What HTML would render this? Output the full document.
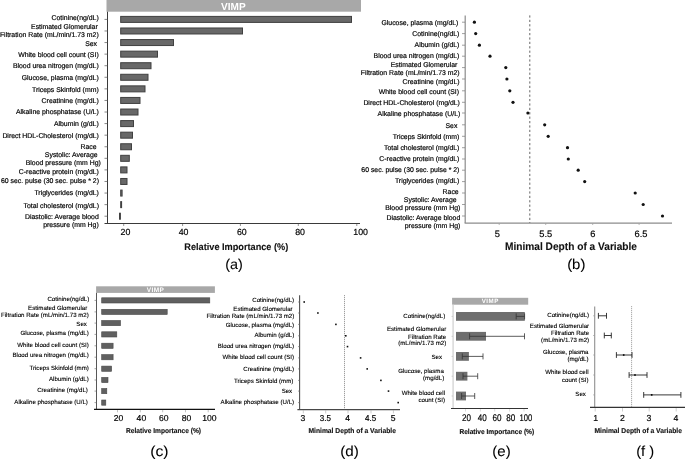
<!DOCTYPE html>
<html><head><meta charset="utf-8"><title>Figure</title>
<style>html,body{margin:0;padding:0;background:#fff;}svg{display:block}text{font-family:"Liberation Sans",Arial,sans-serif;text-rendering:geometricPrecision;}</style>
</head><body>
<svg width="685" height="459" viewBox="0 0 685 459">
<rect x="0" y="0" width="685" height="459" fill="#ffffff"/>
<rect x="106.50" y="0.00" width="254.50" height="11.70" fill="#a8a8a8"/>
<text x="233.40" y="9.60" font-size="10.2" text-anchor="middle" font-weight="bold" fill="#ffffff" textLength="24.60" lengthAdjust="spacingAndGlyphs" >VIMP</text>
<line x1="107.50" y1="11.70" x2="107.50" y2="223.50" stroke="#3a3a3a" stroke-width="1" />
<line x1="104.50" y1="223.50" x2="360.00" y2="223.50" stroke="#3a3a3a" stroke-width="1" />
<line x1="104.50" y1="19.40" x2="107.50" y2="19.40" stroke="#555" stroke-width="0.7" />
<line x1="104.50" y1="30.98" x2="107.50" y2="30.98" stroke="#555" stroke-width="0.7" />
<line x1="104.50" y1="42.55" x2="107.50" y2="42.55" stroke="#555" stroke-width="0.7" />
<line x1="104.50" y1="54.13" x2="107.50" y2="54.13" stroke="#555" stroke-width="0.7" />
<line x1="104.50" y1="65.71" x2="107.50" y2="65.71" stroke="#555" stroke-width="0.7" />
<line x1="104.50" y1="77.28" x2="107.50" y2="77.28" stroke="#555" stroke-width="0.7" />
<line x1="104.50" y1="88.86" x2="107.50" y2="88.86" stroke="#555" stroke-width="0.7" />
<line x1="104.50" y1="100.44" x2="107.50" y2="100.44" stroke="#555" stroke-width="0.7" />
<line x1="104.50" y1="112.02" x2="107.50" y2="112.02" stroke="#555" stroke-width="0.7" />
<line x1="104.50" y1="123.59" x2="107.50" y2="123.59" stroke="#555" stroke-width="0.7" />
<line x1="104.50" y1="135.17" x2="107.50" y2="135.17" stroke="#555" stroke-width="0.7" />
<line x1="104.50" y1="146.75" x2="107.50" y2="146.75" stroke="#555" stroke-width="0.7" />
<line x1="104.50" y1="158.32" x2="107.50" y2="158.32" stroke="#555" stroke-width="0.7" />
<line x1="104.50" y1="169.90" x2="107.50" y2="169.90" stroke="#555" stroke-width="0.7" />
<line x1="104.50" y1="181.48" x2="107.50" y2="181.48" stroke="#555" stroke-width="0.7" />
<line x1="104.50" y1="193.06" x2="107.50" y2="193.06" stroke="#555" stroke-width="0.7" />
<line x1="104.50" y1="204.63" x2="107.50" y2="204.63" stroke="#555" stroke-width="0.7" />
<line x1="104.50" y1="216.21" x2="107.50" y2="216.21" stroke="#555" stroke-width="0.7" />
<rect x="120.70" y="16.40" width="230.80" height="6.00" fill="#686868" stroke="#404040" stroke-width="1"/>
<rect x="120.70" y="27.98" width="121.80" height="6.00" fill="#686868" stroke="#404040" stroke-width="1"/>
<rect x="120.70" y="39.55" width="52.80" height="6.00" fill="#686868" stroke="#404040" stroke-width="1"/>
<rect x="120.70" y="51.13" width="36.80" height="6.00" fill="#686868" stroke="#404040" stroke-width="1"/>
<rect x="120.70" y="62.71" width="30.30" height="6.00" fill="#686868" stroke="#404040" stroke-width="1"/>
<rect x="120.70" y="74.28" width="27.30" height="6.00" fill="#686868" stroke="#404040" stroke-width="1"/>
<rect x="120.70" y="85.86" width="24.30" height="6.00" fill="#686868" stroke="#404040" stroke-width="1"/>
<rect x="120.70" y="97.44" width="19.30" height="6.00" fill="#686868" stroke="#404040" stroke-width="1"/>
<rect x="120.70" y="109.02" width="17.30" height="6.00" fill="#686868" stroke="#404040" stroke-width="1"/>
<rect x="120.70" y="120.59" width="12.80" height="6.00" fill="#686868" stroke="#404040" stroke-width="1"/>
<rect x="120.70" y="132.17" width="11.80" height="6.00" fill="#686868" stroke="#404040" stroke-width="1"/>
<rect x="120.70" y="143.75" width="10.80" height="6.00" fill="#686868" stroke="#404040" stroke-width="1"/>
<rect x="120.70" y="155.32" width="8.60" height="6.00" fill="#686868" stroke="#404040" stroke-width="1"/>
<rect x="120.70" y="166.90" width="6.30" height="6.00" fill="#686868" stroke="#404040" stroke-width="1"/>
<rect x="120.70" y="178.48" width="6.30" height="6.00" fill="#686868" stroke="#404040" stroke-width="1"/>
<rect x="120.70" y="190.06" width="1.40" height="6.00" fill="#686868" stroke="#404040" stroke-width="1"/>
<rect x="120.70" y="201.63" width="0.90" height="6.00" fill="#686868" stroke="#404040" stroke-width="1"/>
<rect x="119.50" y="213.21" width="0.90" height="6.00" fill="#686868" stroke="#404040" stroke-width="1"/>
<line x1="123.70" y1="224.00" x2="123.70" y2="226.00" stroke="#666" stroke-width="0.7" />
<text x="125.50" y="234.70" font-size="8.8" text-anchor="middle" font-weight="normal" fill="#000" stroke="#000" stroke-width="0.18" >20</text>
<line x1="182.60" y1="224.00" x2="182.60" y2="226.00" stroke="#666" stroke-width="0.7" />
<text x="183.60" y="234.70" font-size="8.8" text-anchor="middle" font-weight="normal" fill="#000" stroke="#000" stroke-width="0.18" >40</text>
<line x1="240.40" y1="224.00" x2="240.40" y2="226.00" stroke="#666" stroke-width="0.7" />
<text x="241.80" y="234.70" font-size="8.8" text-anchor="middle" font-weight="normal" fill="#000" stroke="#000" stroke-width="0.18" >60</text>
<line x1="298.30" y1="224.00" x2="298.30" y2="226.00" stroke="#666" stroke-width="0.7" />
<text x="300.10" y="234.70" font-size="8.8" text-anchor="middle" font-weight="normal" fill="#000" stroke="#000" stroke-width="0.18" >80</text>
<line x1="356.80" y1="224.00" x2="356.80" y2="226.00" stroke="#666" stroke-width="0.7" />
<text x="360.60" y="234.70" font-size="8.8" text-anchor="middle" font-weight="normal" fill="#000" stroke="#000" stroke-width="0.18" >100</text>
<text x="236.30" y="249.50" font-size="9.6" text-anchor="middle" font-weight="bold" fill="#111" textLength="104.00" lengthAdjust="spacingAndGlyphs" stroke="#111" stroke-width="0.1" >Relative Importance (%)</text>
<text x="234.10" y="268.90" font-size="14" text-anchor="middle" font-weight="normal" fill="#000" textLength="17.60" lengthAdjust="spacingAndGlyphs" stroke="#000" stroke-width="0.05" >(a)</text>
<text x="98.70" y="19.70" font-size="6.9" text-anchor="end" font-weight="normal" fill="#000" stroke="#000" stroke-width="0.18" >Cotinine(ng/dL)</text>
<text x="97.70" y="29.00" font-size="6.9" text-anchor="end" font-weight="normal" fill="#000" stroke="#000" stroke-width="0.18" >Estimated Glomerular</text>
<text x="98.70" y="37.40" font-size="6.9" text-anchor="end" font-weight="normal" fill="#000" stroke="#000" stroke-width="0.18" >Filtration Rate (mL/min/1.73 m2)</text>
<text x="97.00" y="46.30" font-size="6.9" text-anchor="end" font-weight="normal" fill="#000" stroke="#000" stroke-width="0.18" >Sex</text>
<text x="98.70" y="56.80" font-size="6.9" text-anchor="end" font-weight="normal" fill="#000" stroke="#000" stroke-width="0.18" >White blood cell count (SI)</text>
<text x="98.70" y="67.60" font-size="6.9" text-anchor="end" font-weight="normal" fill="#000" stroke="#000" stroke-width="0.18" >Blood urea nitrogen (mg/dL)</text>
<text x="98.70" y="79.80" font-size="6.9" text-anchor="end" font-weight="normal" fill="#000" stroke="#000" stroke-width="0.18" >Glucose, plasma (mg/dL)</text>
<text x="98.70" y="91.60" font-size="6.9" text-anchor="end" font-weight="normal" fill="#000" stroke="#000" stroke-width="0.18" >Triceps Skinfold (mm)</text>
<text x="98.70" y="102.90" font-size="6.9" text-anchor="end" font-weight="normal" fill="#000" stroke="#000" stroke-width="0.18" >Creatinine (mg/dL)</text>
<text x="98.70" y="114.40" font-size="6.9" text-anchor="end" font-weight="normal" fill="#000" stroke="#000" stroke-width="0.18" >Alkaline phosphatase (U/L)</text>
<text x="98.70" y="125.90" font-size="6.9" text-anchor="end" font-weight="normal" fill="#000" stroke="#000" stroke-width="0.18" >Albumin (g/dL)</text>
<text x="98.90" y="137.70" font-size="6.9" text-anchor="end" font-weight="normal" fill="#000" stroke="#000" stroke-width="0.18" >Direct HDL-Cholesterol (mg/dL)</text>
<text x="96.50" y="148.50" font-size="6.9" text-anchor="end" font-weight="normal" fill="#000" stroke="#000" stroke-width="0.18" >Race</text>
<text x="97.60" y="156.90" font-size="6.9" text-anchor="end" font-weight="normal" fill="#000" stroke="#000" stroke-width="0.18" >Systolic: Average</text>
<text x="100.80" y="164.80" font-size="6.9" text-anchor="end" font-weight="normal" fill="#000" stroke="#000" stroke-width="0.18" >Blood pressure (mm Hg)</text>
<text x="98.90" y="173.90" font-size="6.9" text-anchor="end" font-weight="normal" fill="#000" stroke="#000" stroke-width="0.18" >C-reactive protein (mg/dL)</text>
<text x="99.00" y="183.00" font-size="6.9" text-anchor="end" font-weight="normal" fill="#000" stroke="#000" stroke-width="0.18" >60 sec. pulse (30 sec. pulse * 2)</text>
<text x="98.90" y="195.10" font-size="6.9" text-anchor="end" font-weight="normal" fill="#000" stroke="#000" stroke-width="0.18" >Triglycerides (mg/dL)</text>
<text x="99.00" y="207.70" font-size="6.9" text-anchor="end" font-weight="normal" fill="#000" stroke="#000" stroke-width="0.18" >Total cholesterol (mg/dL)</text>
<text x="98.80" y="219.00" font-size="6.9" text-anchor="end" font-weight="normal" fill="#000" stroke="#000" stroke-width="0.18" >Diastolic: Average blood</text>
<text x="98.70" y="227.00" font-size="6.9" text-anchor="end" font-weight="normal" fill="#000" stroke="#000" stroke-width="0.18" >pressure (mm Hg)</text>
<line x1="465.20" y1="15.40" x2="465.20" y2="223.10" stroke="#8c8c8c" stroke-width="1.2" />
<line x1="464.60" y1="223.10" x2="672.00" y2="223.10" stroke="#8c8c8c" stroke-width="1.1" />
<line x1="462.00" y1="22.20" x2="465.00" y2="22.20" stroke="#777" stroke-width="0.7" />
<circle cx="474.40" cy="22.20" r="1.6" fill="#111"/>
<line x1="462.00" y1="33.60" x2="465.00" y2="33.60" stroke="#777" stroke-width="0.7" />
<circle cx="475.70" cy="33.60" r="1.6" fill="#111"/>
<line x1="462.00" y1="45.20" x2="465.00" y2="45.20" stroke="#777" stroke-width="0.7" />
<circle cx="479.40" cy="45.20" r="1.6" fill="#111"/>
<line x1="462.00" y1="56.20" x2="465.00" y2="56.20" stroke="#777" stroke-width="0.7" />
<circle cx="490.00" cy="56.20" r="1.6" fill="#111"/>
<line x1="462.00" y1="67.60" x2="465.00" y2="67.60" stroke="#777" stroke-width="0.7" />
<circle cx="505.80" cy="67.60" r="1.6" fill="#111"/>
<line x1="462.00" y1="79.00" x2="465.00" y2="79.00" stroke="#777" stroke-width="0.7" />
<circle cx="506.90" cy="79.00" r="1.6" fill="#111"/>
<line x1="462.00" y1="90.80" x2="465.00" y2="90.80" stroke="#777" stroke-width="0.7" />
<circle cx="509.80" cy="90.80" r="1.6" fill="#111"/>
<line x1="462.00" y1="102.30" x2="465.00" y2="102.30" stroke="#777" stroke-width="0.7" />
<circle cx="513.00" cy="102.30" r="1.6" fill="#111"/>
<line x1="462.00" y1="113.00" x2="465.00" y2="113.00" stroke="#777" stroke-width="0.7" />
<circle cx="527.90" cy="113.00" r="1.6" fill="#111"/>
<line x1="462.00" y1="124.80" x2="465.00" y2="124.80" stroke="#777" stroke-width="0.7" />
<circle cx="544.70" cy="124.80" r="1.6" fill="#111"/>
<line x1="462.00" y1="136.30" x2="465.00" y2="136.30" stroke="#777" stroke-width="0.7" />
<circle cx="548.20" cy="136.30" r="1.6" fill="#111"/>
<line x1="462.00" y1="147.70" x2="465.00" y2="147.70" stroke="#777" stroke-width="0.7" />
<circle cx="567.50" cy="147.70" r="1.6" fill="#111"/>
<line x1="462.00" y1="159.00" x2="465.00" y2="159.00" stroke="#777" stroke-width="0.7" />
<circle cx="568.30" cy="159.00" r="1.6" fill="#111"/>
<line x1="462.00" y1="170.20" x2="465.00" y2="170.20" stroke="#777" stroke-width="0.7" />
<circle cx="578.20" cy="170.20" r="1.6" fill="#111"/>
<line x1="462.00" y1="181.60" x2="465.00" y2="181.60" stroke="#777" stroke-width="0.7" />
<circle cx="584.70" cy="181.60" r="1.6" fill="#111"/>
<line x1="462.00" y1="193.00" x2="465.00" y2="193.00" stroke="#777" stroke-width="0.7" />
<circle cx="635.20" cy="193.00" r="1.6" fill="#111"/>
<line x1="462.00" y1="204.50" x2="465.00" y2="204.50" stroke="#777" stroke-width="0.7" />
<circle cx="643.20" cy="204.50" r="1.6" fill="#111"/>
<line x1="462.00" y1="216.00" x2="465.00" y2="216.00" stroke="#777" stroke-width="0.7" />
<circle cx="662.50" cy="216.00" r="1.6" fill="#111"/>
<line x1="529.80" y1="15.40" x2="529.80" y2="223.00" stroke="#666" stroke-width="1" stroke-dasharray="2.2 2.2"/>
<line x1="499.20" y1="223.50" x2="499.20" y2="225.00" stroke="#999" stroke-width="0.7" />
<text x="497.30" y="236.70" font-size="9.3" text-anchor="middle" font-weight="normal" fill="#000" stroke="#000" stroke-width="0.18" >5</text>
<line x1="545.70" y1="223.50" x2="545.70" y2="225.00" stroke="#999" stroke-width="0.7" />
<text x="545.70" y="236.70" font-size="9.3" text-anchor="middle" font-weight="normal" fill="#000" stroke="#000" stroke-width="0.18" >5.5</text>
<line x1="592.70" y1="223.50" x2="592.70" y2="225.00" stroke="#999" stroke-width="0.7" />
<text x="592.80" y="236.70" font-size="9.3" text-anchor="middle" font-weight="normal" fill="#000" stroke="#000" stroke-width="0.18" >6</text>
<line x1="639.10" y1="223.50" x2="639.10" y2="225.00" stroke="#999" stroke-width="0.7" />
<text x="641.00" y="236.70" font-size="9.3" text-anchor="middle" font-weight="normal" fill="#000" stroke="#000" stroke-width="0.18" >6.5</text>
<text x="571.00" y="249.50" font-size="10.8" text-anchor="middle" font-weight="bold" fill="#111" textLength="132.00" lengthAdjust="spacingAndGlyphs" stroke="#111" stroke-width="0.1" >Minimal Depth of a Variable</text>
<text x="576.30" y="269.10" font-size="14" text-anchor="middle" font-weight="normal" fill="#000" textLength="18.30" lengthAdjust="spacingAndGlyphs" stroke="#000" stroke-width="0.05" >(b)</text>
<text x="458.40" y="25.00" font-size="6.9" text-anchor="end" font-weight="normal" fill="#000" stroke="#000" stroke-width="0.18" >Glucose, plasma (mg/dL)</text>
<text x="459.40" y="36.40" font-size="6.9" text-anchor="end" font-weight="normal" fill="#000" stroke="#000" stroke-width="0.18" >Cotinine(ng/dL)</text>
<text x="459.40" y="47.30" font-size="6.9" text-anchor="end" font-weight="normal" fill="#000" stroke="#000" stroke-width="0.18" >Albumin (g/dL)</text>
<text x="459.40" y="58.10" font-size="6.9" text-anchor="end" font-weight="normal" fill="#000" stroke="#000" stroke-width="0.18" >Blood urea nitrogen (mg/dL)</text>
<text x="457.30" y="67.00" font-size="6.9" text-anchor="end" font-weight="normal" fill="#000" stroke="#000" stroke-width="0.18" >Estimated Glomerular</text>
<text x="459.60" y="75.40" font-size="6.9" text-anchor="end" font-weight="normal" fill="#000" stroke="#000" stroke-width="0.18" >Filtration Rate (mL/min/1.73 m2)</text>
<text x="459.60" y="84.20" font-size="6.9" text-anchor="end" font-weight="normal" fill="#000" stroke="#000" stroke-width="0.18" >Creatinine (mg/dL)</text>
<text x="459.10" y="94.00" font-size="6.9" text-anchor="end" font-weight="normal" fill="#000" stroke="#000" stroke-width="0.18" >White blood cell count (SI)</text>
<text x="459.90" y="104.50" font-size="6.9" text-anchor="end" font-weight="normal" fill="#000" stroke="#000" stroke-width="0.18" >Direct HDL-Cholesterol (mg/dL)</text>
<text x="460.30" y="116.10" font-size="6.9" text-anchor="end" font-weight="normal" fill="#000" stroke="#000" stroke-width="0.18" >Alkaline phosphatase (U/L)</text>
<text x="457.40" y="127.90" font-size="6.9" text-anchor="end" font-weight="normal" fill="#000" stroke="#000" stroke-width="0.18" >Sex</text>
<text x="459.40" y="138.80" font-size="6.9" text-anchor="end" font-weight="normal" fill="#000" stroke="#000" stroke-width="0.18" >Triceps Skinfold (mm)</text>
<text x="459.40" y="149.70" font-size="6.9" text-anchor="end" font-weight="normal" fill="#000" stroke="#000" stroke-width="0.18" >Total cholesterol (mg/dL)</text>
<text x="459.40" y="160.80" font-size="6.9" text-anchor="end" font-weight="normal" fill="#000" stroke="#000" stroke-width="0.18" >C-reactive protein (mg/dL)</text>
<text x="459.40" y="172.20" font-size="6.9" text-anchor="end" font-weight="normal" fill="#000" stroke="#000" stroke-width="0.18" >60 sec. pulse (30 sec. pulse * 2)</text>
<text x="459.40" y="182.60" font-size="6.9" text-anchor="end" font-weight="normal" fill="#000" stroke="#000" stroke-width="0.18" >Triglycerides (mg/dL)</text>
<text x="458.70" y="194.40" font-size="6.9" text-anchor="end" font-weight="normal" fill="#000" stroke="#000" stroke-width="0.18" >Race</text>
<text x="456.60" y="202.40" font-size="6.9" text-anchor="end" font-weight="normal" fill="#000" stroke="#000" stroke-width="0.18" >Systolic: Average</text>
<text x="460.30" y="210.40" font-size="6.9" text-anchor="end" font-weight="normal" fill="#000" stroke="#000" stroke-width="0.18" >Blood pressure (mm Hg)</text>
<text x="460.30" y="219.70" font-size="6.9" text-anchor="end" font-weight="normal" fill="#000" stroke="#000" stroke-width="0.18" >Diastolic: Average blood</text>
<text x="460.30" y="228.40" font-size="6.9" text-anchor="end" font-weight="normal" fill="#000" stroke="#000" stroke-width="0.18" >pressure (mm Hg)</text>
<rect x="96.10" y="286.30" width="118.80" height="6.60" fill="#a8a8a8"/>
<text x="155.50" y="291.90" font-size="6.5" text-anchor="middle" font-weight="bold" fill="#ffffff" letter-spacing="0.4">VIMP</text>
<line x1="96.50" y1="292.90" x2="96.50" y2="409.50" stroke="#444" stroke-width="0.9" />
<line x1="94.00" y1="409.40" x2="215.00" y2="409.40" stroke="#111" stroke-width="1.2" />
<line x1="94.50" y1="300.40" x2="96.60" y2="300.40" stroke="#666" stroke-width="0.6" />
<rect x="101.70" y="297.80" width="108.10" height="5.20" fill="#606060" stroke="#484848" stroke-width="0.6"/>
<line x1="94.50" y1="311.90" x2="96.60" y2="311.90" stroke="#666" stroke-width="0.6" />
<rect x="101.70" y="309.30" width="65.50" height="5.20" fill="#606060" stroke="#484848" stroke-width="0.6"/>
<line x1="94.50" y1="323.10" x2="96.60" y2="323.10" stroke="#666" stroke-width="0.6" />
<rect x="101.70" y="320.50" width="18.80" height="5.20" fill="#606060" stroke="#484848" stroke-width="0.6"/>
<line x1="94.50" y1="334.40" x2="96.60" y2="334.40" stroke="#666" stroke-width="0.6" />
<rect x="101.70" y="331.80" width="15.10" height="5.20" fill="#606060" stroke="#484848" stroke-width="0.6"/>
<line x1="94.50" y1="345.80" x2="96.60" y2="345.80" stroke="#666" stroke-width="0.6" />
<rect x="101.70" y="343.20" width="11.40" height="5.20" fill="#606060" stroke="#484848" stroke-width="0.6"/>
<line x1="94.50" y1="357.20" x2="96.60" y2="357.20" stroke="#666" stroke-width="0.6" />
<rect x="101.70" y="354.60" width="11.40" height="5.20" fill="#606060" stroke="#484848" stroke-width="0.6"/>
<line x1="94.50" y1="368.70" x2="96.60" y2="368.70" stroke="#666" stroke-width="0.6" />
<rect x="101.70" y="366.10" width="9.90" height="5.20" fill="#606060" stroke="#484848" stroke-width="0.6"/>
<line x1="94.50" y1="380.00" x2="96.60" y2="380.00" stroke="#666" stroke-width="0.6" />
<rect x="101.70" y="377.40" width="6.30" height="5.20" fill="#606060" stroke="#484848" stroke-width="0.6"/>
<line x1="94.50" y1="391.10" x2="96.60" y2="391.10" stroke="#666" stroke-width="0.6" />
<rect x="101.70" y="388.50" width="5.10" height="5.20" fill="#606060" stroke="#484848" stroke-width="0.6"/>
<line x1="94.50" y1="402.60" x2="96.60" y2="402.60" stroke="#666" stroke-width="0.6" />
<rect x="101.70" y="400.00" width="4.10" height="5.20" fill="#606060" stroke="#484848" stroke-width="0.6"/>
<line x1="117.50" y1="410.00" x2="117.50" y2="412.30" stroke="#999" stroke-width="0.6" />
<text x="118.60" y="420.90" font-size="8.6" text-anchor="middle" font-weight="normal" fill="#000" stroke="#000" stroke-width="0.18" >20</text>
<line x1="140.30" y1="410.00" x2="140.30" y2="412.30" stroke="#999" stroke-width="0.6" />
<text x="141.40" y="420.90" font-size="8.6" text-anchor="middle" font-weight="normal" fill="#000" stroke="#000" stroke-width="0.18" >40</text>
<line x1="162.70" y1="410.00" x2="162.70" y2="412.30" stroke="#999" stroke-width="0.6" />
<text x="163.80" y="420.90" font-size="8.6" text-anchor="middle" font-weight="normal" fill="#000" stroke="#000" stroke-width="0.18" >60</text>
<line x1="185.50" y1="410.00" x2="185.50" y2="412.30" stroke="#999" stroke-width="0.6" />
<text x="186.60" y="420.90" font-size="8.6" text-anchor="middle" font-weight="normal" fill="#000" stroke="#000" stroke-width="0.18" >80</text>
<line x1="208.20" y1="410.00" x2="208.20" y2="412.30" stroke="#999" stroke-width="0.6" />
<text x="209.30" y="420.90" font-size="8.6" text-anchor="middle" font-weight="normal" fill="#000" stroke="#000" stroke-width="0.18" >100</text>
<text x="163.50" y="432.80" font-size="7.1" text-anchor="middle" font-weight="bold" fill="#111" textLength="75.00" lengthAdjust="spacingAndGlyphs" stroke="#111" stroke-width="0.14" >Relative Importance (%)</text>
<text x="159.40" y="455.60" font-size="14.5" text-anchor="middle" font-weight="normal" fill="#000" textLength="18.40" lengthAdjust="spacingAndGlyphs" stroke="#000" stroke-width="0.05" >(c)</text>
<text x="89.30" y="301.30" font-size="6.14" text-anchor="end" font-weight="normal" fill="#000" stroke="#000" stroke-width="0.12" >Cotinine(ng/dL)</text>
<text x="87.30" y="310.20" font-size="6.14" text-anchor="end" font-weight="normal" fill="#000" stroke="#000" stroke-width="0.12" >Estimated Glomerular</text>
<text x="88.80" y="317.30" font-size="6.14" text-anchor="end" font-weight="normal" fill="#000" stroke="#000" stroke-width="0.12" >Filtration Rate (mL/min/1.73 m2)</text>
<text x="86.90" y="326.10" font-size="6.14" text-anchor="end" font-weight="normal" fill="#000" stroke="#000" stroke-width="0.12" >Sex</text>
<text x="88.80" y="335.00" font-size="6.14" text-anchor="end" font-weight="normal" fill="#000" stroke="#000" stroke-width="0.12" >Glucose, plasma (mg/dL)</text>
<text x="88.80" y="346.70" font-size="6.14" text-anchor="end" font-weight="normal" fill="#000" stroke="#000" stroke-width="0.12" >White blood cell count (SI)</text>
<text x="88.80" y="357.00" font-size="6.14" text-anchor="end" font-weight="normal" fill="#000" stroke="#000" stroke-width="0.12" >Blood urea nitrogen (mg/dL)</text>
<text x="88.80" y="369.70" font-size="6.14" text-anchor="end" font-weight="normal" fill="#000" stroke="#000" stroke-width="0.12" >Triceps Skinfold (mm)</text>
<text x="88.80" y="381.40" font-size="6.14" text-anchor="end" font-weight="normal" fill="#000" stroke="#000" stroke-width="0.12" >Albumin (g/dL)</text>
<text x="87.90" y="392.10" font-size="6.14" text-anchor="end" font-weight="normal" fill="#000" stroke="#000" stroke-width="0.12" >Creatinine (mg/dL)</text>
<text x="87.90" y="403.50" font-size="6.14" text-anchor="end" font-weight="normal" fill="#000" stroke="#000" stroke-width="0.12" >Alkaline phosphatase (U/L)</text>
<line x1="299.60" y1="295.20" x2="299.60" y2="409.80" stroke="#505050" stroke-width="1.1" />
<line x1="297.40" y1="409.60" x2="400.00" y2="409.60" stroke="#484848" stroke-width="1.3" />
<line x1="298.00" y1="302.00" x2="299.90" y2="302.00" stroke="#666" stroke-width="0.6" />
<rect x="303.40" y="301.20" width="1.60" height="1.60" fill="#111"/>
<line x1="298.00" y1="313.00" x2="299.90" y2="313.00" stroke="#666" stroke-width="0.6" />
<rect x="317.10" y="312.20" width="1.60" height="1.60" fill="#111"/>
<line x1="298.00" y1="324.40" x2="299.90" y2="324.40" stroke="#666" stroke-width="0.6" />
<rect x="335.10" y="323.60" width="1.60" height="1.60" fill="#111"/>
<line x1="298.00" y1="335.80" x2="299.90" y2="335.80" stroke="#666" stroke-width="0.6" />
<rect x="345.00" y="335.00" width="1.60" height="1.60" fill="#111"/>
<line x1="298.00" y1="346.60" x2="299.90" y2="346.60" stroke="#666" stroke-width="0.6" />
<rect x="346.70" y="345.80" width="1.60" height="1.60" fill="#111"/>
<line x1="298.00" y1="357.90" x2="299.90" y2="357.90" stroke="#666" stroke-width="0.6" />
<rect x="359.80" y="357.10" width="1.60" height="1.60" fill="#111"/>
<line x1="298.00" y1="368.90" x2="299.90" y2="368.90" stroke="#666" stroke-width="0.6" />
<rect x="366.40" y="368.10" width="1.60" height="1.60" fill="#111"/>
<line x1="298.00" y1="380.40" x2="299.90" y2="380.40" stroke="#666" stroke-width="0.6" />
<rect x="380.10" y="379.60" width="1.60" height="1.60" fill="#111"/>
<line x1="298.00" y1="391.10" x2="299.90" y2="391.10" stroke="#666" stroke-width="0.6" />
<rect x="387.70" y="390.30" width="1.60" height="1.60" fill="#111"/>
<line x1="298.00" y1="402.60" x2="299.90" y2="402.60" stroke="#666" stroke-width="0.6" />
<rect x="397.40" y="401.80" width="1.60" height="1.60" fill="#111"/>
<line x1="344.50" y1="295.20" x2="344.50" y2="409.50" stroke="#555" stroke-width="0.7" stroke-dasharray="1 1"/>
<line x1="303.30" y1="410.00" x2="303.30" y2="413.40" stroke="#aaa" stroke-width="0.6" />
<text x="303.00" y="421.00" font-size="8.6" text-anchor="middle" font-weight="normal" fill="#000" stroke="#000" stroke-width="0.18" >3</text>
<line x1="325.70" y1="410.00" x2="325.70" y2="413.40" stroke="#aaa" stroke-width="0.6" />
<text x="325.40" y="421.00" font-size="8.6" text-anchor="middle" font-weight="normal" fill="#000" textLength="11.20" lengthAdjust="spacingAndGlyphs" stroke="#000" stroke-width="0.18" >3.5</text>
<line x1="348.00" y1="410.00" x2="348.00" y2="413.40" stroke="#aaa" stroke-width="0.6" />
<text x="347.70" y="421.00" font-size="8.6" text-anchor="middle" font-weight="normal" fill="#000" stroke="#000" stroke-width="0.18" >4</text>
<line x1="371.00" y1="410.00" x2="371.00" y2="413.40" stroke="#aaa" stroke-width="0.6" />
<text x="370.70" y="421.00" font-size="8.6" text-anchor="middle" font-weight="normal" fill="#000" textLength="11.20" lengthAdjust="spacingAndGlyphs" stroke="#000" stroke-width="0.18" >4.5</text>
<line x1="393.40" y1="410.00" x2="393.40" y2="413.40" stroke="#aaa" stroke-width="0.6" />
<text x="393.10" y="421.00" font-size="8.6" text-anchor="middle" font-weight="normal" fill="#000" stroke="#000" stroke-width="0.18" >5</text>
<text x="352.20" y="432.80" font-size="7.1" text-anchor="middle" font-weight="bold" fill="#111" textLength="87.50" lengthAdjust="spacingAndGlyphs" stroke="#111" stroke-width="0.14" >Minimal Depth of a Variable</text>
<text x="349.50" y="455.60" font-size="14.5" text-anchor="middle" font-weight="normal" fill="#000" textLength="18.60" lengthAdjust="spacingAndGlyphs" stroke="#000" stroke-width="0.05" >(d)</text>
<text x="294.10" y="302.00" font-size="6.14" text-anchor="end" font-weight="normal" fill="#000" stroke="#000" stroke-width="0.12" >Cotinine(ng/dL)</text>
<text x="292.60" y="310.70" font-size="6.14" text-anchor="end" font-weight="normal" fill="#000" stroke="#000" stroke-width="0.12" >Estimated Glomerular</text>
<text x="294.30" y="318.00" font-size="6.14" text-anchor="end" font-weight="normal" fill="#000" stroke="#000" stroke-width="0.12" >Filtration Rate (mL/min/1.73 m2)</text>
<text x="294.10" y="326.70" font-size="6.14" text-anchor="end" font-weight="normal" fill="#000" stroke="#000" stroke-width="0.12" >Glucose, plasma (mg/dL)</text>
<text x="294.30" y="337.00" font-size="6.14" text-anchor="end" font-weight="normal" fill="#000" stroke="#000" stroke-width="0.12" >Albumin (g/dL)</text>
<text x="294.10" y="347.50" font-size="6.14" text-anchor="end" font-weight="normal" fill="#000" stroke="#000" stroke-width="0.12" >Blood urea nitrogen (mg/dL)</text>
<text x="294.10" y="359.10" font-size="6.14" text-anchor="end" font-weight="normal" fill="#000" stroke="#000" stroke-width="0.12" >White blood cell count (SI)</text>
<text x="294.10" y="370.50" font-size="6.14" text-anchor="end" font-weight="normal" fill="#000" stroke="#000" stroke-width="0.12" >Creatinine (mg/dL)</text>
<text x="293.30" y="383.00" font-size="6.14" text-anchor="end" font-weight="normal" fill="#000" stroke="#000" stroke-width="0.12" >Triceps Skinfold (mm)</text>
<text x="292.20" y="392.80" font-size="6.14" text-anchor="end" font-weight="normal" fill="#000" stroke="#000" stroke-width="0.12" >Sex</text>
<text x="294.10" y="404.00" font-size="6.14" text-anchor="end" font-weight="normal" fill="#000" stroke="#000" stroke-width="0.12" >Alkaline phosphatase (U/L)</text>
<rect x="452.10" y="297.80" width="76.10" height="6.90" fill="#a8a8a8"/>
<text x="490.30" y="303.10" font-size="6.2" text-anchor="middle" font-weight="bold" fill="#ffffff" letter-spacing="0.5">VIMP</text>
<line x1="453.10" y1="304.70" x2="453.10" y2="408.00" stroke="#d6d6d6" stroke-width="1.4" />
<line x1="451.00" y1="408.50" x2="528.00" y2="408.50" stroke="#333" stroke-width="1" />
<line x1="451.50" y1="316.40" x2="453.00" y2="316.40" stroke="#bbb" stroke-width="0.6" />
<rect x="456.00" y="312.00" width="68.80" height="8.80" fill="#6e6e6e"/>
<line x1="516.20" y1="316.40" x2="524.60" y2="316.40" stroke="#333" stroke-width="0.8" />
<line x1="516.20" y1="313.40" x2="516.20" y2="319.40" stroke="#333" stroke-width="0.8" />
<line x1="524.60" y1="313.40" x2="524.60" y2="319.40" stroke="#333" stroke-width="0.8" />
<line x1="451.50" y1="336.30" x2="453.00" y2="336.30" stroke="#bbb" stroke-width="0.6" />
<rect x="456.00" y="331.90" width="30.00" height="8.80" fill="#6e6e6e"/>
<line x1="469.60" y1="336.30" x2="524.50" y2="336.30" stroke="#333" stroke-width="0.8" />
<line x1="469.60" y1="333.30" x2="469.60" y2="339.30" stroke="#333" stroke-width="0.8" />
<line x1="524.50" y1="333.30" x2="524.50" y2="339.30" stroke="#333" stroke-width="0.8" />
<line x1="451.50" y1="356.40" x2="453.00" y2="356.40" stroke="#bbb" stroke-width="0.6" />
<rect x="456.00" y="352.00" width="12.90" height="8.80" fill="#6e6e6e"/>
<line x1="462.30" y1="356.40" x2="483.00" y2="356.40" stroke="#333" stroke-width="0.8" />
<line x1="462.30" y1="353.40" x2="462.30" y2="359.40" stroke="#333" stroke-width="0.8" />
<line x1="483.00" y1="353.40" x2="483.00" y2="359.40" stroke="#333" stroke-width="0.8" />
<line x1="451.50" y1="376.20" x2="453.00" y2="376.20" stroke="#bbb" stroke-width="0.6" />
<rect x="456.00" y="371.80" width="11.40" height="8.80" fill="#6e6e6e"/>
<line x1="463.00" y1="376.20" x2="477.70" y2="376.20" stroke="#333" stroke-width="0.8" />
<line x1="463.00" y1="373.20" x2="463.00" y2="379.20" stroke="#333" stroke-width="0.8" />
<line x1="477.70" y1="373.20" x2="477.70" y2="379.20" stroke="#333" stroke-width="0.8" />
<line x1="451.50" y1="396.00" x2="453.00" y2="396.00" stroke="#bbb" stroke-width="0.6" />
<rect x="456.00" y="391.60" width="10.00" height="8.80" fill="#6e6e6e"/>
<line x1="461.60" y1="396.00" x2="474.70" y2="396.00" stroke="#333" stroke-width="0.8" />
<line x1="461.60" y1="393.00" x2="461.60" y2="399.00" stroke="#333" stroke-width="0.8" />
<line x1="474.70" y1="393.00" x2="474.70" y2="399.00" stroke="#333" stroke-width="0.8" />
<line x1="465.50" y1="409.00" x2="465.50" y2="411.50" stroke="#ccc" stroke-width="0.7" />
<text x="466.60" y="420.90" font-size="9.6" text-anchor="middle" font-weight="normal" fill="#000" textLength="9.00" lengthAdjust="spacingAndGlyphs" stroke="#000" stroke-width="0.18" >20</text>
<line x1="480.40" y1="409.00" x2="480.40" y2="411.50" stroke="#ccc" stroke-width="0.7" />
<text x="482.30" y="420.90" font-size="9.6" text-anchor="middle" font-weight="normal" fill="#000" textLength="9.00" lengthAdjust="spacingAndGlyphs" stroke="#000" stroke-width="0.18" >40</text>
<line x1="494.70" y1="409.00" x2="494.70" y2="411.50" stroke="#ccc" stroke-width="0.7" />
<text x="497.00" y="420.90" font-size="9.6" text-anchor="middle" font-weight="normal" fill="#000" textLength="9.00" lengthAdjust="spacingAndGlyphs" stroke="#000" stroke-width="0.18" >60</text>
<line x1="509.60" y1="409.00" x2="509.60" y2="411.50" stroke="#ccc" stroke-width="0.7" />
<text x="510.80" y="420.90" font-size="9.6" text-anchor="middle" font-weight="normal" fill="#000" textLength="9.00" lengthAdjust="spacingAndGlyphs" stroke="#000" stroke-width="0.18" >80</text>
<line x1="524.00" y1="409.00" x2="524.00" y2="411.50" stroke="#ccc" stroke-width="0.7" />
<text x="525.80" y="420.90" font-size="9.6" text-anchor="middle" font-weight="normal" fill="#000" textLength="12.70" lengthAdjust="spacingAndGlyphs" stroke="#000" stroke-width="0.18" >100</text>
<text x="496.80" y="433.80" font-size="7.1" text-anchor="middle" font-weight="bold" fill="#111" textLength="74.80" lengthAdjust="spacingAndGlyphs" stroke="#111" stroke-width="0.14" >Relative Importance (%)</text>
<text x="501.50" y="455.80" font-size="14.5" text-anchor="middle" font-weight="normal" fill="#000" textLength="18.40" lengthAdjust="spacingAndGlyphs" stroke="#000" stroke-width="0.05" >(e)</text>
<text x="445.20" y="318.30" font-size="6.14" text-anchor="end" font-weight="normal" fill="#000" stroke="#000" stroke-width="0.12" >Cotinine(ng/dL)</text>
<text x="446.20" y="330.60" font-size="6.14" text-anchor="end" font-weight="normal" fill="#000" stroke="#000" stroke-width="0.12" >Estimated Glomerular</text>
<text x="446.20" y="338.50" font-size="6.14" text-anchor="end" font-weight="normal" fill="#000" stroke="#000" stroke-width="0.12" >Filtration Rate</text>
<text x="446.20" y="345.30" font-size="6.14" text-anchor="end" font-weight="normal" fill="#000" stroke="#000" stroke-width="0.12" >(mL/min/1.73 m2)</text>
<text x="442.00" y="358.60" font-size="6.14" text-anchor="end" font-weight="normal" fill="#000" stroke="#000" stroke-width="0.12" >Sex</text>
<text x="443.80" y="372.90" font-size="6.14" text-anchor="end" font-weight="normal" fill="#000" stroke="#000" stroke-width="0.12" >Glucose, plasma</text>
<text x="444.20" y="380.00" font-size="6.14" text-anchor="end" font-weight="normal" fill="#000" stroke="#000" stroke-width="0.12" >(mg/dL)</text>
<text x="445.00" y="395.00" font-size="6.14" text-anchor="end" font-weight="normal" fill="#000" stroke="#000" stroke-width="0.12" >White blood cell</text>
<text x="445.00" y="402.10" font-size="6.14" text-anchor="end" font-weight="normal" fill="#000" stroke="#000" stroke-width="0.12" >count (SI)</text>
<line x1="594.70" y1="306.40" x2="594.70" y2="407.30" stroke="#909090" stroke-width="1.1" />
<line x1="590.00" y1="407.40" x2="685.00" y2="407.40" stroke="#333" stroke-width="1.2" />
<line x1="631.60" y1="306.20" x2="631.60" y2="407.00" stroke="#666" stroke-width="0.7" stroke-dasharray="1 1"/>
<line x1="593.00" y1="315.80" x2="594.80" y2="315.80" stroke="#999" stroke-width="0.6" />
<line x1="598.40" y1="315.80" x2="606.50" y2="315.80" stroke="#222" stroke-width="0.9" />
<line x1="598.40" y1="312.90" x2="598.40" y2="318.70" stroke="#222" stroke-width="0.9" />
<line x1="606.50" y1="312.90" x2="606.50" y2="318.70" stroke="#222" stroke-width="0.9" />
<line x1="593.00" y1="335.50" x2="594.80" y2="335.50" stroke="#999" stroke-width="0.6" />
<line x1="604.30" y1="335.50" x2="611.30" y2="335.50" stroke="#222" stroke-width="0.9" />
<line x1="604.30" y1="332.60" x2="604.30" y2="338.40" stroke="#222" stroke-width="0.9" />
<line x1="611.30" y1="332.60" x2="611.30" y2="338.40" stroke="#222" stroke-width="0.9" />
<line x1="593.00" y1="355.00" x2="594.80" y2="355.00" stroke="#999" stroke-width="0.6" />
<line x1="616.40" y1="355.00" x2="632.00" y2="355.00" stroke="#222" stroke-width="0.9" />
<line x1="616.40" y1="352.10" x2="616.40" y2="357.90" stroke="#222" stroke-width="0.9" />
<line x1="632.00" y1="352.10" x2="632.00" y2="357.90" stroke="#222" stroke-width="0.9" />
<rect x="622.90" y="354.20" width="1.60" height="1.60" fill="#000"/>
<line x1="593.00" y1="375.00" x2="594.80" y2="375.00" stroke="#999" stroke-width="0.6" />
<line x1="629.10" y1="375.00" x2="647.00" y2="375.00" stroke="#222" stroke-width="0.9" />
<line x1="629.10" y1="372.10" x2="629.10" y2="377.90" stroke="#222" stroke-width="0.9" />
<line x1="647.00" y1="372.10" x2="647.00" y2="377.90" stroke="#222" stroke-width="0.9" />
<rect x="634.20" y="374.20" width="1.60" height="1.60" fill="#000"/>
<line x1="593.00" y1="394.90" x2="594.80" y2="394.90" stroke="#999" stroke-width="0.6" />
<line x1="643.70" y1="394.90" x2="680.90" y2="394.90" stroke="#222" stroke-width="0.9" />
<line x1="643.70" y1="392.00" x2="643.70" y2="397.80" stroke="#222" stroke-width="0.9" />
<line x1="680.90" y1="392.00" x2="680.90" y2="397.80" stroke="#222" stroke-width="0.9" />
<rect x="650.90" y="394.10" width="1.60" height="1.60" fill="#000"/>
<line x1="595.20" y1="408.00" x2="595.20" y2="411.50" stroke="#bbb" stroke-width="0.7" />
<text x="595.70" y="420.70" font-size="8.7" text-anchor="middle" font-weight="normal" fill="#000" stroke="#000" stroke-width="0.18" >1</text>
<line x1="622.50" y1="408.00" x2="622.50" y2="411.50" stroke="#bbb" stroke-width="0.7" />
<text x="622.30" y="420.70" font-size="8.7" text-anchor="middle" font-weight="normal" fill="#000" stroke="#000" stroke-width="0.18" >2</text>
<line x1="649.20" y1="408.00" x2="649.20" y2="411.50" stroke="#bbb" stroke-width="0.7" />
<text x="649.00" y="420.70" font-size="8.7" text-anchor="middle" font-weight="normal" fill="#000" stroke="#000" stroke-width="0.18" >3</text>
<line x1="676.20" y1="408.00" x2="676.20" y2="411.50" stroke="#bbb" stroke-width="0.7" />
<text x="676.00" y="420.70" font-size="8.7" text-anchor="middle" font-weight="normal" fill="#000" stroke="#000" stroke-width="0.18" >4</text>
<text x="638.20" y="432.60" font-size="7.1" text-anchor="middle" font-weight="bold" fill="#111" textLength="87.50" lengthAdjust="spacingAndGlyphs" stroke="#111" stroke-width="0.14" >Minimal Depth of a Variable</text>
<text x="645.20" y="455.70" font-size="14.5" text-anchor="middle" font-weight="normal" fill="#000" textLength="18.10" lengthAdjust="spacingAndGlyphs" stroke="#000" stroke-width="0.05" >(f )</text>
<text x="589.10" y="317.00" font-size="6.14" text-anchor="end" font-weight="normal" fill="#000" stroke="#000" stroke-width="0.12" >Cotinine(ng/dL)</text>
<text x="589.10" y="327.70" font-size="6.14" text-anchor="end" font-weight="normal" fill="#000" stroke="#000" stroke-width="0.12" >Estimated Glomerular</text>
<text x="589.10" y="335.40" font-size="6.14" text-anchor="end" font-weight="normal" fill="#000" stroke="#000" stroke-width="0.12" >Filtration Rate</text>
<text x="589.10" y="342.30" font-size="6.14" text-anchor="end" font-weight="normal" fill="#000" stroke="#000" stroke-width="0.12" >(mL/min/1.73 m2)</text>
<text x="588.50" y="353.90" font-size="6.14" text-anchor="end" font-weight="normal" fill="#000" stroke="#000" stroke-width="0.12" >Glucose, plasma</text>
<text x="588.50" y="361.00" font-size="6.14" text-anchor="end" font-weight="normal" fill="#000" stroke="#000" stroke-width="0.12" >(mg/dL)</text>
<text x="588.50" y="374.40" font-size="6.14" text-anchor="end" font-weight="normal" fill="#000" stroke="#000" stroke-width="0.12" >White blood cell</text>
<text x="588.50" y="381.50" font-size="6.14" text-anchor="end" font-weight="normal" fill="#000" stroke="#000" stroke-width="0.12" >count (SI)</text>
<text x="585.90" y="395.60" font-size="6.14" text-anchor="end" font-weight="normal" fill="#000" stroke="#000" stroke-width="0.12" >Sex</text>
</svg>
</body></html>
